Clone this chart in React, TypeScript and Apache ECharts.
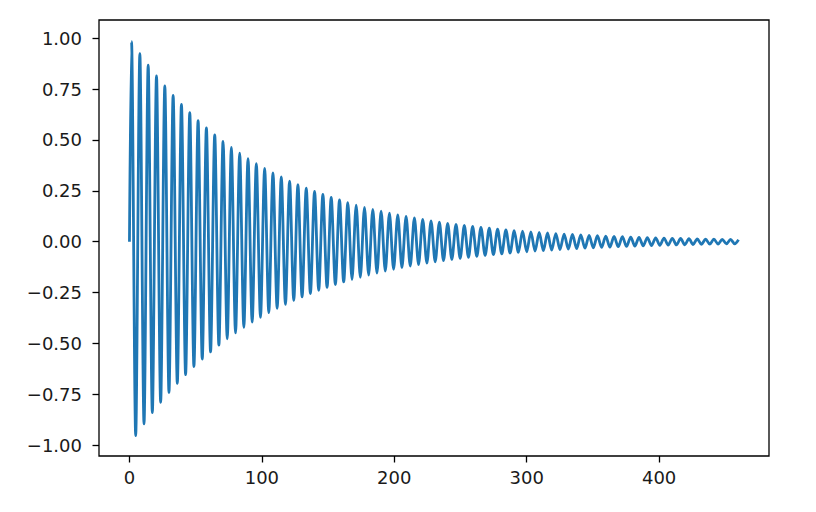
import React, { useEffect, useRef } from "react";
import * as echarts from "echarts";

// Extrema of the damped oscillation (x position, value),
// plus the starting point and the final sample.
const waveX: number[] = [
  0,
  1.57, 4.71, 7.85, 11.0, 14.14, 17.28, 20.42, 23.56, 26.7, 29.85,
  32.99, 36.13, 39.27, 42.41, 45.55, 48.69, 51.84, 54.98, 58.12, 61.26,
  64.4, 67.54, 70.69, 73.83, 76.97, 80.11, 83.25, 86.39, 89.54, 92.68,
  95.82, 98.96, 102.1, 105.24, 108.38, 111.53, 114.67, 117.81, 120.95, 124.09,
  127.23, 130.38, 133.52, 136.66, 139.8, 142.94, 146.08, 149.23, 152.37, 155.51,
  158.65, 161.79, 164.93, 168.07, 171.22, 174.36, 177.5, 180.64, 183.78, 186.92,
  190.07, 193.21, 196.35, 199.49, 202.63, 205.77, 208.92, 212.06, 215.2, 218.34,
  221.48, 224.62, 227.77, 230.91, 234.05, 237.19, 240.33, 243.47, 246.62, 249.76,
  252.9, 256.04, 259.18, 262.32, 265.46, 268.61, 271.75, 274.89, 278.03, 281.17,
  284.31, 287.46, 290.6, 293.74, 296.88, 300.02, 303.16, 306.31, 309.45, 312.59,
  315.73, 318.87, 322.01, 325.16, 328.3, 331.44, 334.58, 337.72, 340.86, 344.0,
  347.15, 350.29, 353.43, 356.57, 359.71, 362.85, 366.0, 369.14, 372.28, 375.42,
  378.56, 381.7, 384.85, 387.99, 391.13, 394.27, 397.41, 400.55, 403.7, 406.84,
  409.98, 413.12, 416.26, 419.4, 422.54, 425.69, 428.83, 431.97, 435.11, 438.25,
  441.39, 444.54, 447.68, 450.82, 453.96, 457.1,
  460,
];

const waveY: number[] = [
  0,
  0.984, -0.954, 0.924, -0.896, 0.868, -0.841, 0.815, -0.79, 0.766, -0.742,
  0.719, -0.697, 0.675, -0.654, 0.634, -0.614, 0.595, -0.577, 0.559, -0.542,
  0.525, -0.509, 0.493, -0.478, 0.463, -0.449, 0.435, -0.421, 0.408, -0.396,
  0.384, -0.372, 0.36, -0.349, 0.338, -0.328, 0.318, -0.308, 0.298, -0.289,
  0.28, -0.272, 0.263, -0.255, 0.247, -0.239, 0.232, -0.225, 0.218, -0.211,
  0.205, -0.198, 0.192, -0.186, 0.18, -0.175, 0.169, -0.164, 0.159, -0.154,
  0.1495, -0.1448, 0.1404, -0.136, 0.1318, -0.1277, 0.1238, -0.12, 0.1163, -0.1127,
  0.1092, -0.1058, 0.1025, -0.0994, 0.0963, -0.0933, 0.0904, -0.0876, 0.0849, -0.0823,
  0.0797, -0.0773, 0.0749, -0.0726, 0.0703, -0.0681, 0.066, -0.064, 0.062, -0.0601,
  0.0582, -0.0564, 0.0547, -0.053, 0.0514, -0.0498, 0.0482, -0.0467, 0.0453, -0.0439,
  0.0425, -0.0412, 0.0399, -0.0387, 0.0375, -0.0364, 0.0352, -0.0341, 0.0331, -0.0321,
  0.0311, -0.0301, 0.0292, -0.0283, 0.0274, -0.0266, 0.0257, -0.0249, 0.0242, -0.0234,
  0.0227, -0.022, 0.0213, -0.0207, 0.02, -0.0194, 0.0188, -0.0182, 0.0177, -0.0171,
  0.0166, -0.0161, 0.0156, -0.0151, 0.0146, -0.0142, 0.0137, -0.0133, 0.0129, -0.0125,
  0.0121, -0.0117, 0.0114, -0.011, 0.0107, -0.0104,
  0.0097,
];

const xTicks: number[] = [0, 100, 200, 300, 400];
const yTicks: number[] = [-1, -0.75, -0.5, -0.25, 0, 0.25, 0.5, 0.75, 1];

const fmtY = (v: number) => v.toFixed(2).replace("-", "\u2212");

export default function App() {
  const ref = useRef<HTMLDivElement>(null);

  useEffect(() => {
    if (!ref.current) return;
    const chart = echarts.init(ref.current, undefined, { renderer: "svg" });
    const data = waveX.map((x, i) => [x, waveY[i]]);
    const labelStyle = {
      color: "#1a1a1a",
      fontFamily: "DejaVu Sans",
      fontSize: 18,
    };
    chart.setOption({
      animation: false,
      backgroundColor: "#ffffff",
      grid: {
        left: 99,
        right: 47,
        top: 20,
        bottom: 56,
        show: true,
        borderColor: "#000",
        borderWidth: 1.3,
        backgroundColor: "transparent",
      },
      xAxis: {
        type: "value",
        min: -23,
        max: 483,
        splitLine: { show: false },
        axisLine: { show: false, onZero: false },
        axisTick: {
          show: true,
          inside: false,
          length: 6.5,
          customValues: xTicks,
          lineStyle: { color: "#000", width: 1.3 },
        },
        axisLabel: {
          ...labelStyle,
          margin: 12,
          customValues: xTicks,
          formatter: (v: number) => String(v),
        },
      },
      yAxis: {
        type: "value",
        min: -1.054,
        max: 1.09,
        splitLine: { show: false },
        axisLine: { show: false, onZero: false },
        axisTick: {
          show: true,
          inside: false,
          length: 6.5,
          customValues: yTicks,
          lineStyle: { color: "#000", width: 1.3 },
        },
        axisLabel: {
          ...labelStyle,
          margin: 17,
          customValues: yTicks,
          formatter: fmtY,
        },
      },
      series: [
        {
          type: "line",
          data,
          showSymbol: false,
          smooth: 0.3,
          lineStyle: { color: "#1f77b4", width: 2.8 },
          clip: true,
        },
      ],
    });
    return () => chart.dispose();
  }, []);

  return (
    <div
      ref={ref}
      style={{ position: "fixed", left: 0, top: 0, width: 816, height: 512 }}
    />
  );
}
